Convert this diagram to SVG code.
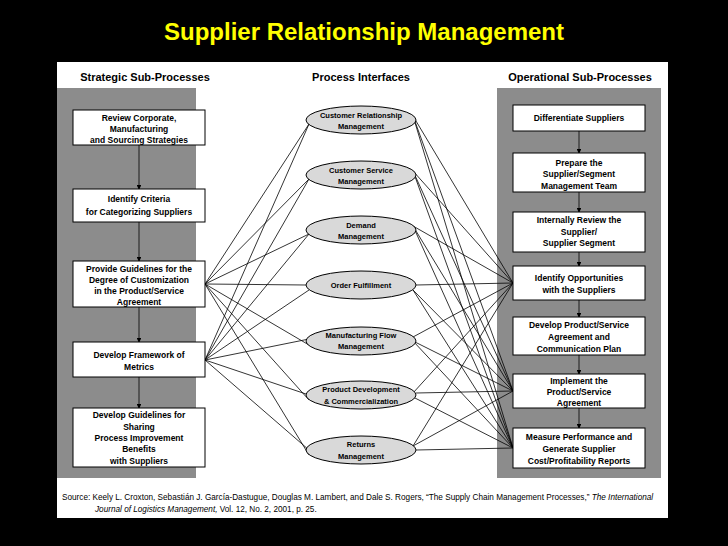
<svg xmlns="http://www.w3.org/2000/svg" width="728" height="546" viewBox="0 0 728 546">
<style>
text{font-family:"Liberation Sans",Arial,sans-serif;font-weight:bold;fill:#000}
.b{fill:#fff;stroke:#000;stroke-width:1}
.e{fill:#d9d9d9;stroke:#000;stroke-width:1}
.t{font-size:8.5px;text-anchor:middle}
.et{font-size:7.5px;text-anchor:middle}
.h{font-size:11px;text-anchor:middle}
.src{font-size:8.2px;font-weight:normal}
#conn line{stroke:#000;stroke-width:0.8}
.ar{stroke:#000;stroke-width:1;marker-end:url(#a)}
</style>
<defs><marker id="a" markerWidth="6" markerHeight="6" refX="5" refY="3" orient="auto"><path d="M0,0L6,3L0,6z" fill="#000"/></marker></defs>
<rect width="728" height="546" fill="#000"/>
<text x="364" y="40" style="font-size:24px;fill:#ffff00;text-anchor:middle">Supplier Relationship Management</text>
<rect x="57" y="62" width="611" height="456" fill="#fff"/>
<rect x="57" y="88" width="139" height="390" fill="#8c8c8c"/>
<rect x="497" y="88" width="164" height="390" fill="#8c8c8c"/>
<text class="h" x="145" y="81">Strategic Sub-Processes</text>
<text class="h" x="361" y="81">Process Interfaces</text>
<text class="h" x="580" y="81">Operational Sub-Processes</text>
<g id="conn">
<line x1="205" y1="284" x2="309" y2="124"/><line x1="205" y1="284" x2="309" y2="179"/><line x1="205" y1="284" x2="309" y2="234"/><line x1="205" y1="284" x2="306" y2="285"/><line x1="205" y1="284" x2="309" y2="345"/><line x1="205" y1="284" x2="309" y2="400"/><line x1="205" y1="284" x2="309" y2="455"/>
<line x1="205" y1="360" x2="309" y2="124"/><line x1="205" y1="360" x2="309" y2="179"/><line x1="205" y1="360" x2="309" y2="234"/><line x1="205" y1="360" x2="309" y2="290"/><line x1="205" y1="360" x2="309" y2="339"/><line x1="205" y1="360" x2="309" y2="395"/><line x1="205" y1="360" x2="309" y2="450"/>
<line x1="413" y1="116" x2="513" y2="283"/><line x1="413" y1="116" x2="513" y2="391"/><line x1="413" y1="116" x2="513" y2="448"/>
<line x1="413" y1="171" x2="513" y2="283"/><line x1="413" y1="171" x2="513" y2="391"/><line x1="413" y1="171" x2="513" y2="448"/>
<line x1="413" y1="226" x2="513" y2="283"/><line x1="413" y1="226" x2="513" y2="391"/><line x1="413" y1="226" x2="513" y2="448"/>
<line x1="416" y1="285" x2="513" y2="283"/><line x1="413" y1="290" x2="513" y2="391"/><line x1="413" y1="290" x2="513" y2="448"/>
<line x1="413" y1="337" x2="513" y2="283"/><line x1="413" y1="341" x2="513" y2="391"/><line x1="413" y1="341" x2="513" y2="448"/>
<line x1="413" y1="393" x2="513" y2="283"/><line x1="416" y1="393" x2="513" y2="391"/><line x1="413" y1="397" x2="513" y2="448"/>
<line x1="413" y1="446" x2="513" y2="283"/><line x1="413" y1="446" x2="513" y2="391"/><line x1="416" y1="450" x2="513" y2="448"/>
<line class="ar" x1="139" y1="145" x2="139" y2="189"/><line class="ar" x1="139" y1="222" x2="139" y2="261"/><line class="ar" x1="139" y1="307" x2="139" y2="342"/><line class="ar" x1="139" y1="377" x2="139" y2="408"/>
<line class="ar" x1="579" y1="131" x2="579" y2="153"/><line class="ar" x1="579" y1="192" x2="579" y2="212"/><line class="ar" x1="579" y1="252" x2="579" y2="266"/><line class="ar" x1="579" y1="300" x2="579" y2="317"/><line class="ar" x1="579" y1="355" x2="579" y2="374"/><line class="ar" x1="579" y1="408" x2="579" y2="428"/>
</g>
<g id="s1"><rect class="b" x="73" y="110" width="132" height="35"/><text class="t" x="139" y="121">Review Corporate,</text><text class="t" x="139" y="132">Manufacturing</text><text class="t" x="139" y="143">and Sourcing Strategies</text></g>
<g id="s2"><rect class="b" x="73" y="189" width="132" height="33"/><text class="t" x="139" y="202">Identify Criteria</text><text class="t" x="139" y="215">for Categorizing Suppliers</text></g>
<g id="s3"><rect class="b" x="73" y="261" width="132" height="46"/><text class="t" x="139" y="272">Provide Guidelines for the</text><text class="t" x="139" y="283">Degree of Customization</text><text class="t" x="139" y="294">in the Product/Service</text><text class="t" x="139" y="305">Agreement</text></g>
<g id="s4"><rect class="b" x="73" y="342" width="132" height="35"/><text class="t" x="139" y="358">Develop Framework of</text><text class="t" x="139" y="370">Metrics</text></g>
<g id="s5"><rect class="b" x="73" y="408" width="132" height="59"/><text class="t" x="139" y="418">Develop Guidelines for</text><text class="t" x="139" y="430">Sharing</text><text class="t" x="139" y="441">Process Improvement</text><text class="t" x="139" y="452">Benefits</text><text class="t" x="139" y="464">with Suppliers</text></g>
<g id="i1"><ellipse class="e" cx="361" cy="120" rx="55" ry="14"/><text class="et" x="361" y="118">Customer Relationship</text><text class="et" x="361" y="129">Management</text></g>
<g id="i2"><ellipse class="e" cx="361" cy="175" rx="55" ry="14"/><text class="et" x="361" y="173">Customer Service</text><text class="et" x="361" y="184">Management</text></g>
<g id="i3"><ellipse class="e" cx="361" cy="230" rx="55" ry="14"/><text class="et" x="361" y="228">Demand</text><text class="et" x="361" y="239">Management</text></g>
<g id="i4"><ellipse class="e" cx="361" cy="285" rx="55" ry="14"/><text class="et" x="361" y="288">Order Fulfillment</text></g>
<g id="i5"><ellipse class="e" cx="361" cy="341" rx="55" ry="14"/><text class="et" x="361" y="338">Manufacturing Flow</text><text class="et" x="361" y="349">Management</text></g>
<g id="i6"><ellipse class="e" cx="361" cy="395" rx="55" ry="14"/><text class="et" x="361" y="392">Product Development</text><text class="et" x="361" y="404">&amp; Commercialization</text></g>
<g id="i7"><ellipse class="e" cx="361" cy="450" rx="55" ry="14"/><text class="et" x="361" y="447">Returns</text><text class="et" x="361" y="459">Management</text></g>
<g id="o1"><rect class="b" x="513" y="105" width="132" height="26"/><text class="t" x="579" y="121">Differentiate Suppliers</text></g>
<g id="o2"><rect class="b" x="513" y="153" width="132" height="39"/><text class="t" x="579" y="166">Prepare the</text><text class="t" x="579" y="177">Supplier/Segment</text><text class="t" x="579" y="189">Management Team</text></g>
<g id="o3"><rect class="b" x="513" y="212" width="132" height="40"/><text class="t" x="579" y="223">Internally Review the</text><text class="t" x="579" y="235">Supplier/</text><text class="t" x="579" y="246">Supplier Segment</text></g>
<g id="o4"><rect class="b" x="513" y="266" width="132" height="34"/><text class="t" x="579" y="281">Identify Opportunities</text><text class="t" x="579" y="293">with the Suppliers</text></g>
<g id="o5"><rect class="b" x="513" y="317" width="132" height="38"/><text class="t" x="579" y="328">Develop Product/Service</text><text class="t" x="579" y="340">Agreement and</text><text class="t" x="579" y="352">Communication Plan</text></g>
<g id="o6"><rect class="b" x="513" y="374" width="132" height="34"/><text class="t" x="579" y="384">Implement the</text><text class="t" x="579" y="395">Product/Service</text><text class="t" x="579" y="406">Agreement</text></g>
<g id="o7"><rect class="b" x="513" y="428" width="132" height="40"/><text class="t" x="579" y="440">Measure Performance and</text><text class="t" x="579" y="452">Generate Supplier</text><text class="t" x="579" y="464">Cost/Profitability Reports</text></g>
<text class="src" x="62" y="500">Source:  Keely L. Croxton, Sebastián J. García-Dastugue, Douglas M. Lambert, and Dale S. Rogers, “The Supply Chain Management Processes,” <tspan font-style="italic">The International</tspan></text>
<text class="src" x="95" y="512"><tspan font-style="italic">Journal of Logistics Management,</tspan> Vol. 12,  No. 2,  2001, p. 25.</text>
</svg>
